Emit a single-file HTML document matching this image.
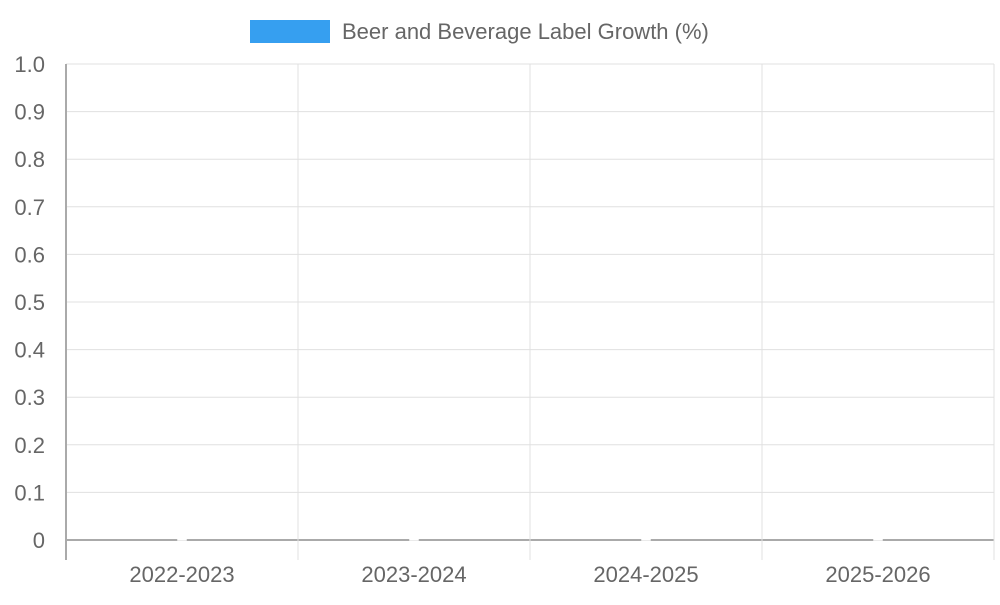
<!DOCTYPE html>
<html><head><meta charset="utf-8"><style>
body{margin:0;background:#fff;width:1000px;height:600px;overflow:hidden;font-family:"Liberation Sans",sans-serif}
</style></head><body>
<svg id="chart" width="1000" height="600" xmlns="http://www.w3.org/2000/svg" font-family="Liberation Sans, sans-serif"></svg>
<script>
const categories=["2022-2023","2023-2024","2024-2025","2025-2026"];
const values=[0,0,0,0];
const yTicks=["0","0.1","0.2","0.3","0.4","0.5","0.6","0.7","0.8","0.9","1.0"];
const svg=document.getElementById('chart');
const NS="http://www.w3.org/2000/svg";
const L=66,R=994,T=64,B=540,yMax=1;
const x=i=>L+(R-L)/categories.length*(i+0.5);
const y=v=>B-(v/yMax)*(B-T);
function mk(t,a,txt){const e=document.createElementNS(NS,t);for(const k in a)e.setAttribute(k,a[k]);if(txt!=null)e.textContent=txt;svg.appendChild(e);return e;}
// legend
let e=mk('rect',{x:250,y:20,width:80,height:23,fill:'#369ff0'});


e=mk('text',{x:342,y:39,'font-size':22,fill:'#666'},'Beer and Beverage Label Growth (%)');


// y grid & ticks
yTicks.forEach((t,i)=>{const v=parseFloat(t);const yy=y(v);
 const g=mk('line',{x1:L,x2:R,y1:yy,y2:yy,stroke:i===0?'#aaa':'#e0e0e0','stroke-width':i===0?2:1});
 
 
 const tx=mk('text',{x:45,y:yy+8,'font-size':22,fill:'#666','text-anchor':'end'},t);
 
 
});
// x grid
for(let i=0;i<=categories.length;i++){const xx=L+(R-L)/categories.length*i;
 const g=mk('line',{x1:xx,x2:xx,y1:T,y2:B+20,stroke:i===0?'#aaa':'#e0e0e0','stroke-width':i===0?2:1});
 
 
}
categories.forEach((c,i)=>{
 const tx=mk('text',{x:x(i),y:582,'font-size':22,fill:'#666','text-anchor':'middle'},c);
 
 
 const w=8, h=B-y(values[i]);
 const b=mk('rect',{x:x(i)-w/2,y:y(values[i])-1,width:w,height:Math.max(h,0)+1,fill:'#369ff0',stroke:'#fff','stroke-width':1.5});
 
 
});
</script>
</body></html>
